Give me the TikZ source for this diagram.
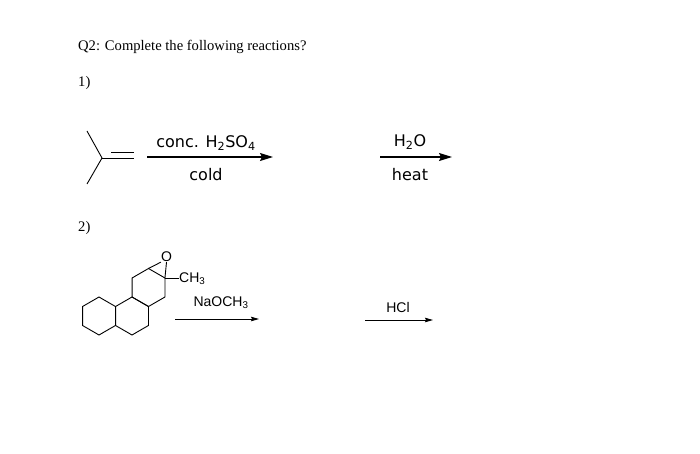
\documentclass[tikz,border=0pt]{standalone}
\usepackage{fontspec}
\setmainfont{Liberation Serif}
\newfontfamily\dvs{DejaVu Sans}
\newfontfamily\lsans{Liberation Sans}
\usetikzlibrary{arrows.meta}
\begin{document}
\begin{tikzpicture}[x=1pt,y=-1pt,
  bond/.style={line width=0.9pt},
  rxn/.style={line width=1.2pt,-{Stealth[length=13pt,width=8pt,inset=2pt]}},
  rxnb/.style={line width=0.8pt,-{Stealth[length=8pt,width=4.5pt,inset=1pt]}},
  lab/.style={font=\dvs\fontsize{16}{18}\selectfont,inner sep=0pt},
  labb/.style={font=\lsans\fontsize{14}{16}\selectfont,inner sep=0pt},
  txt/.style={font=\fontsize{14.6}{18}\selectfont,anchor=west,inner sep=0pt}]
\useasboundingbox (0,0) rectangle (700,454);
\node[txt] (t) at (78,47) {Q2: Complete the following reactions?};
\node[txt] (n1) at (78,83) {1)};
\node[txt] (n2) at (78,228) {2)};
% isobutylene
\coordinate (v) at (102,158);
\coordinate (a1) at (87,131);
\coordinate (a2) at (87,184);
\draw[bond] (a1) -- (v) -- (a2);
\draw[bond] (v) -- (134,158);
\draw[bond] (111,152.5) -- (134,152.5);
% arrows 1
\coordinate (r1s) at (147,157); \coordinate (r1e) at (273,157);
\draw[rxn] (r1s) -- (r1e);
\node[lab] (l1) at (206,143) {conc. H\textsubscript{2}SO\textsubscript{4}};
\node[lab] (l2) at (206,175) {cold};
\coordinate (r2s) at (380,157); \coordinate (r2e) at (452,157);
\draw[rxn] (r2s) -- (r2e);
\node[lab] (l3) at (410,142) {H\textsubscript{2}O};
\node[lab] (l4) at (410,175) {heat};
% tricyclic
\def\s{19}
\foreach \cx/\cy in {99/316, 132/316, 148.5/287.5}{
  \draw[bond] (\cx,\cy-\s) -- (\cx+16.45,\cy-9.5) -- (\cx+16.45,\cy+9.5) -- (\cx,\cy+\s) -- (\cx-16.45,\cy+9.5) -- (\cx-16.45,\cy-9.5) -- cycle;
}
\node[labb] (O) at (166.5,257) {O};
\draw[bond] (148.5,268.5) -- (O.south west);
\draw[bond] (164.95,278) -- (O.south);
\draw[bond] (164.95,278) -- (179,278);
\node[labb,anchor=west] (me) at (179,279) {CH\textsubscript{3}};
\node[labb] (l5) at (221,303) {NaOCH\textsubscript{3}};
\coordinate (r3s) at (175,319); \coordinate (r3e) at (259,319);
\draw[rxnb] (r3s) -- (r3e);
\node[labb] (l6) at (398,307) {HCl};
\coordinate (r4s) at (365,320); \coordinate (r4e) at (433,320);
\draw[rxnb] (r4s) -- (r4e);
\end{tikzpicture}
\end{document}
